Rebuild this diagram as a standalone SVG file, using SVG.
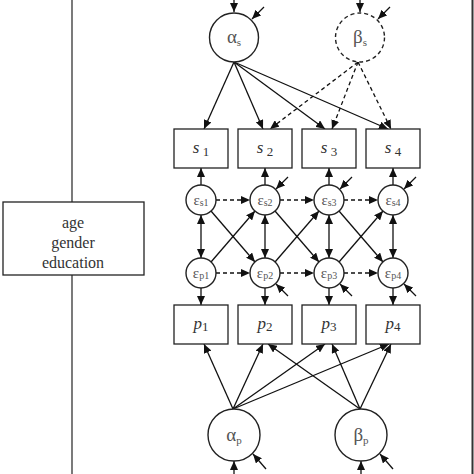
<svg xmlns="http://www.w3.org/2000/svg" width="474" height="474" viewBox="0 0 474 474">
<defs>
<marker id="ah" markerUnits="userSpaceOnUse" markerWidth="9" markerHeight="8" viewBox="0 0 9 8" refX="9" refY="4" orient="auto">
<path d="M0,0 L9,4 L0,8 Z" fill="#111"/>
</marker>
<marker id="as" markerUnits="userSpaceOnUse" markerWidth="9" markerHeight="8" viewBox="0 0 9 8" refX="0" refY="4" orient="auto">
<path d="M9,0 L0,4 L9,8 Z" fill="#111"/>
</marker>
</defs>
<style>
.ar{stroke:#111;stroke-width:1.3;fill:none;marker-end:url(#ah)}
.da{stroke:#111;stroke-width:1.3;fill:none;stroke-dasharray:4 3;marker-end:url(#ah)}
.bx{fill:#fff;stroke:#222;stroke-width:1.3}
.ci{fill:#fff;stroke:#222;stroke-width:1.4}
.cd{fill:#fff;stroke:#222;stroke-width:1.4;stroke-dasharray:4 3}
text{font-family:'Liberation Serif','DejaVu Serif','Times New Roman',serif;text-anchor:middle}
.g{fill:#555}
.b{fill:#333;font-size:17px}
.it{font-style:italic}
</style>

<g id="frame">
<line x1="72" y1="0" x2="72" y2="474" stroke="#333" stroke-width="1.3"/>
<line x1="472.5" y1="0" x2="472.5" y2="474" stroke="#333" stroke-width="2"/>
</g>

<g id="covariates">
<rect x="3" y="202" width="141" height="73" class="bx"/>
<text class="b" x="73" y="228" font-family="Liberation Serif, serif" style="font-size:16px">age</text>
<text class="b" x="73" y="248" font-family="Liberation Serif, serif" style="font-size:16px">gender</text>
<text class="b" x="73" y="268" font-family="Liberation Serif, serif" style="font-size:16px">education</text>
</g>

<g id="connectors">
<line x1="234" y1="0" x2="234" y2="12" class="ar"/>
<line x1="264" y1="7" x2="252" y2="19" class="ar"/>
<line x1="360" y1="0" x2="360" y2="12" class="ar"/>
<line x1="390" y1="7" x2="378" y2="19" class="ar"/>
<line x1="234" y1="62" x2="204" y2="129" class="ar"/>
<line x1="234" y1="62" x2="263" y2="129" class="ar"/>
<line x1="234" y1="62" x2="325" y2="129" class="ar"/>
<line x1="234" y1="62" x2="388" y2="129" class="ar"/>
<line x1="358" y1="62" x2="270" y2="129" class="da"/>
<line x1="358" y1="62" x2="332" y2="129" class="da"/>
<line x1="358" y1="62" x2="391" y2="129" class="da"/>
<line x1="201" y1="185" x2="201" y2="168" class="ar"/>
<line x1="265" y1="185" x2="265" y2="168" class="ar"/>
<line x1="329" y1="185" x2="329" y2="168" class="ar"/>
<line x1="393" y1="185" x2="393" y2="168" class="ar"/>
<line x1="201" y1="215" x2="201" y2="258" class="ar" marker-start="url(#as)"/>
<line x1="265" y1="215" x2="265" y2="258" class="ar" marker-start="url(#as)"/>
<line x1="329" y1="215" x2="329" y2="258" class="ar" marker-start="url(#as)"/>
<line x1="393" y1="215" x2="393" y2="258" class="ar" marker-start="url(#as)"/>
<line x1="216" y1="200" x2="250" y2="200" class="da"/>
<line x1="280" y1="200" x2="314" y2="200" class="da"/>
<line x1="344" y1="200" x2="378" y2="200" class="da"/>
<line x1="216" y1="273" x2="250" y2="273" class="da"/>
<line x1="280" y1="273" x2="314" y2="273" class="da"/>
<line x1="344" y1="273" x2="378" y2="273" class="da"/>
<line x1="211" y1="211" x2="255" y2="262" class="ar"/>
<line x1="211" y1="262" x2="255" y2="211" class="ar"/>
<line x1="275" y1="211" x2="319" y2="262" class="ar"/>
<line x1="275" y1="262" x2="319" y2="211" class="ar"/>
<line x1="339" y1="211" x2="383" y2="262" class="ar"/>
<line x1="339" y1="262" x2="383" y2="211" class="ar"/>
<line x1="288" y1="177" x2="276" y2="189" class="ar"/>
<line x1="352" y1="177" x2="340" y2="189" class="ar"/>
<line x1="416" y1="177" x2="404" y2="189" class="ar"/>
<line x1="288" y1="296" x2="276" y2="284" class="ar"/>
<line x1="352" y1="296" x2="340" y2="284" class="ar"/>
<line x1="416" y1="296" x2="404" y2="284" class="ar"/>
<line x1="201" y1="288" x2="201" y2="305" class="ar"/>
<line x1="265" y1="288" x2="265" y2="305" class="ar"/>
<line x1="329" y1="288" x2="329" y2="305" class="ar"/>
<line x1="393" y1="288" x2="393" y2="305" class="ar"/>
<line x1="233" y1="409" x2="204" y2="344" class="ar"/>
<line x1="233" y1="409" x2="263" y2="344" class="ar"/>
<line x1="233" y1="409" x2="325" y2="344" class="ar"/>
<line x1="233" y1="409" x2="389" y2="344" class="ar"/>
<line x1="360" y1="409" x2="268" y2="344" class="ar"/>
<line x1="360" y1="409" x2="332" y2="344" class="ar"/>
<line x1="360" y1="409" x2="391" y2="344" class="ar"/>
<line x1="234" y1="474" x2="234" y2="461" class="ar"/>
<line x1="266" y1="469" x2="253" y2="454" class="ar"/>
<line x1="361" y1="474" x2="361" y2="461" class="ar"/>
<line x1="393" y1="469" x2="380" y2="454" class="ar"/>
</g>

<g id="alpha_s"><circle cx="234" cy="37.5" r="24.5" class="ci"/><text class="g" x="234" y="43" style="font-size:19px">α<tspan dy="3" style="font-size:11px">s</tspan></text></g>
<g id="beta_s"><circle cx="360" cy="37.5" r="24.5" class="cd"/><text class="g" x="360" y="43" style="font-size:19px">β<tspan dy="3" style="font-size:11px">s</tspan></text></g>

<g id="s1"><rect x="174" y="129" width="54" height="39" class="bx"/><text class="b" x="201" y="153"><tspan class="it">s</tspan><tspan dy="3" style="font-size:13px"> 1</tspan></text></g>
<g id="s2"><rect x="238" y="129" width="54" height="39" class="bx"/><text class="b" x="265" y="153"><tspan class="it">s</tspan><tspan dy="3" style="font-size:13px"> 2</tspan></text></g>
<g id="s3"><rect x="302" y="129" width="54" height="39" class="bx"/><text class="b" x="329" y="153"><tspan class="it">s</tspan><tspan dy="3" style="font-size:13px"> 3</tspan></text></g>
<g id="s4"><rect x="366" y="129" width="54" height="39" class="bx"/><text class="b" x="393" y="153"><tspan class="it">s</tspan><tspan dy="3" style="font-size:13px"> 4</tspan></text></g>

<g id="es1"><circle cx="201" cy="200" r="15" class="ci"/><text class="g" x="201" y="205" style="font-size:15px">ε<tspan dy="1" style="font-size:10px">s1</tspan></text></g>
<g id="es2"><circle cx="265" cy="200" r="15" class="ci"/><text class="g" x="265" y="205" style="font-size:15px">ε<tspan dy="1" style="font-size:10px">s2</tspan></text></g>
<g id="es3"><circle cx="329" cy="200" r="15" class="ci"/><text class="g" x="329" y="205" style="font-size:15px">ε<tspan dy="1" style="font-size:10px">s3</tspan></text></g>
<g id="es4"><circle cx="393" cy="200" r="15" class="ci"/><text class="g" x="393" y="205" style="font-size:15px">ε<tspan dy="1" style="font-size:10px">s4</tspan></text></g>

<g id="ep1"><circle cx="201" cy="273" r="15" class="ci"/><text class="g" x="201" y="278" style="font-size:15px">ε<tspan dy="1" style="font-size:10px">p1</tspan></text></g>
<g id="ep2"><circle cx="265" cy="273" r="15" class="ci"/><text class="g" x="265" y="278" style="font-size:15px">ε<tspan dy="1" style="font-size:10px">p2</tspan></text></g>
<g id="ep3"><circle cx="329" cy="273" r="15" class="ci"/><text class="g" x="329" y="278" style="font-size:15px">ε<tspan dy="1" style="font-size:10px">p3</tspan></text></g>
<g id="ep4"><circle cx="393" cy="273" r="15" class="ci"/><text class="g" x="393" y="278" style="font-size:15px">ε<tspan dy="1" style="font-size:10px">p4</tspan></text></g>

<g id="p1"><rect x="174" y="305" width="54" height="39" class="bx"/><text class="b" x="201" y="329"><tspan class="it">p</tspan><tspan dy="2" style="font-size:13px">1</tspan></text></g>
<g id="p2"><rect x="238" y="305" width="54" height="39" class="bx"/><text class="b" x="265" y="329"><tspan class="it">p</tspan><tspan dy="2" style="font-size:13px">2</tspan></text></g>
<g id="p3"><rect x="302" y="305" width="54" height="39" class="bx"/><text class="b" x="329" y="329"><tspan class="it">p</tspan><tspan dy="2" style="font-size:13px">3</tspan></text></g>
<g id="p4"><rect x="366" y="305" width="54" height="39" class="bx"/><text class="b" x="393" y="329"><tspan class="it">p</tspan><tspan dy="2" style="font-size:13px">4</tspan></text></g>

<g id="alpha_p"><circle cx="234" cy="435" r="26" class="ci"/><text class="g" x="234" y="441" style="font-size:19px">α<tspan dy="3" style="font-size:11px">p</tspan></text></g>
<g id="beta_p"><circle cx="361" cy="435" r="26" class="ci"/><text class="g" x="361" y="441" style="font-size:19px">β<tspan dy="3" style="font-size:11px">p</tspan></text></g>
</svg>
